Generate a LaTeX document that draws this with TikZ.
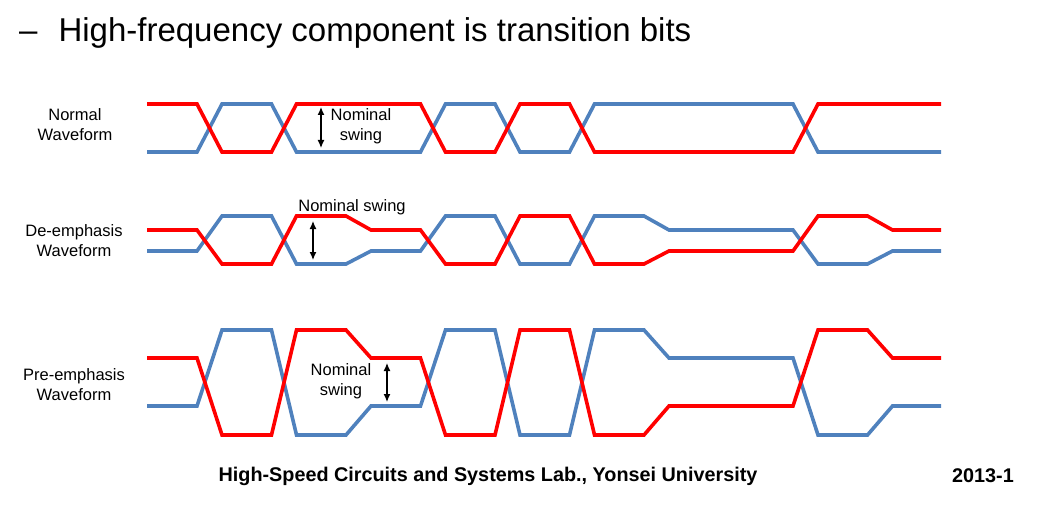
\documentclass[tikz,border=0pt]{standalone}
\usepackage{fontspec}
\setmainfont{Liberation Sans}
\usetikzlibrary{arrows.meta}
\begin{document}
\begin{tikzpicture}[x=1pt,y=-1pt,
  wv/.style={line width=3.6pt,line join=miter},
  bl/.style={wv,draw=myblue},
  rd/.style={wv,draw=red},
  lbl/.style={font=\fontsize{16.5}{20}\selectfont,align=center,inner sep=0pt},
  sw/.style={{Latex[length=8pt,width=7pt]}-{Latex[length=8pt,width=7pt]},line width=1.3pt}]
\definecolor{myblue}{RGB}{79,129,189}
\useasboundingbox (0,0) rectangle (1037,516);
% Normal
\draw[bl] (147,152)--(197,152)--(222,104)--(271.5,104)--(296.5,152)--(346,152)--(371,152)--(420.5,152)--(445.5,104)--(495,104)--(520,152)--(569.5,152)--(594.5,104)--(644,104)--(669,104)--(718.5,104)--(743.5,104)--(793,104)--(818,152)--(867.5,152)--(892.5,152)--(941,152);
\draw[rd] (147,104)--(197,104)--(222,152)--(271.5,152)--(296.5,104)--(346,104)--(371,104)--(420.5,104)--(445.5,152)--(495,152)--(520,104)--(569.5,104)--(594.5,152)--(644,152)--(669,152)--(718.5,152)--(743.5,152)--(793,152)--(818,104)--(867.5,104)--(892.5,104)--(941,104);
% De-emphasis
\draw[bl] (147,251)--(197,251)--(222,216)--(271.5,216)--(296.5,264)--(346,264)--(371,251)--(420.5,251)--(445.5,216)--(495,216)--(520,264)--(569.5,264)--(594.5,216)--(644,216)--(669,230)--(718.5,230)--(743.5,230)--(793,230)--(818,264)--(867.5,264)--(892.5,251)--(941,251);
\draw[rd] (147,230)--(197,230)--(222,264)--(271.5,264)--(296.5,216)--(346,216)--(371,230)--(420.5,230)--(445.5,264)--(495,264)--(520,216)--(569.5,216)--(594.5,264)--(644,264)--(669,251)--(718.5,251)--(743.5,251)--(793,251)--(818,216)--(867.5,216)--(892.5,230)--(941,230);
% Pre-emphasis
\draw[bl] (147,406)--(197,406)--(222,330)--(271.5,330)--(296.5,435)--(346,435)--(371,406)--(420.5,406)--(445.5,330)--(495,330)--(520,435)--(569.5,435)--(594.5,330)--(644,330)--(669,358)--(718.5,358)--(743.5,358)--(793,358)--(818,435)--(867.5,435)--(892.5,406)--(941,406);
\draw[rd] (147,358)--(197,358)--(222,435)--(271.5,435)--(296.5,330)--(346,330)--(371,358)--(420.5,358)--(445.5,435)--(495,435)--(520,330)--(569.5,330)--(594.5,435)--(644,435)--(669,406)--(718.5,406)--(743.5,406)--(793,406)--(818,330)--(867.5,330)--(892.5,358)--(941,358);
% title
\node[anchor=west,inner sep=0pt,font=\fontsize{33}{36}\selectfont] (title) at (19,33) {–\hspace{21pt}High-frequency component is transition bits};
% labels
\node[lbl] (l1) at (75,125) {Normal\\Waveform};
\node[lbl] (l2) at (74,241) {De-emphasis\\Waveform};
\node[lbl] (l3) at (74,385) {Pre-emphasis\\Waveform};
% nominal swing
\coordinate (a1) at (321,107); \coordinate (b1) at (321,148);
\draw[sw] (a1)--(b1);
\node[lbl] (n1) at (361,126) {Nominal\\swing};
\coordinate (a2) at (313,221); \coordinate (b2) at (313,260);
\draw[sw] (a2)--(b2);
\node[lbl] (n2) at (352,207) {Nominal swing};
\coordinate (a3) at (387,363); \coordinate (b3) at (387,402);
\draw[sw] (a3)--(b3);
\node[lbl] (n3) at (341,381) {Nominal\\swing};
% footer
\node[font=\fontsize{19.8}{22}\selectfont\bfseries,inner sep=0pt] (f1) at (488,476) {High-Speed Circuits and Systems Lab., Yonsei University};
\node[font=\fontsize{19.8}{22}\selectfont\bfseries,inner sep=0pt] (f2) at (983,476) {2013-1};
\end{tikzpicture}
\end{document}
